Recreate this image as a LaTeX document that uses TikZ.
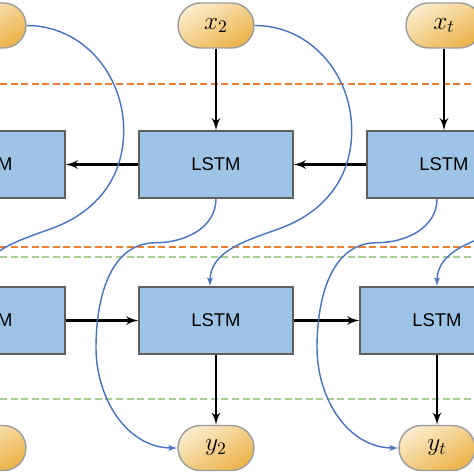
\documentclass[tikz,border=0pt]{standalone}
\usepackage{fontspec}
\setsansfont{Liberation Sans}
\usepackage{xcolor}
\usetikzlibrary{arrows}

\definecolor{boxblue}{HTML}{9DC3E6}
\definecolor{boxline}{HTML}{5F5F5F}
\definecolor{pilllight}{HTML}{FBEBCB}
\definecolor{pilldark}{HTML}{ECB44A}
\definecolor{pillline}{HTML}{9C9C9C}
\definecolor{curveblue}{HTML}{4472C4}
\definecolor{sepred}{HTML}{ED7D31}
\definecolor{sepgreen}{HTML}{A9D18E}

\tikzset{
  lstm/.style={draw=boxline, fill=boxblue, line width=0.8pt, minimum width=3.08cm, minimum height=1.34cm, font=\sffamily\fontsize{10.5}{12}\selectfont},
  token/.style={draw=pillline, rounded corners=0.45cm, top color=pilllight, bottom color=pilldark, shading angle=30, line width=0.8pt, minimum width=1.52cm, minimum height=0.9cm, font=\Large},
  flow/.style={->, -latex', line width=1.4pt},
  bilink/.style={->, -latex', curveblue, line width=0.8pt},
  sep/.style={dash pattern=on 4pt off 2pt, line width=0.8pt}
}

\begin{document}
\begin{tikzpicture}[node distance=4.56cm, auto]
  \useasboundingbox (0,0) rectangle (9.48,-9.48);
  \clip (0,0) rectangle (9.48,-9.48);

  % layer separators
  \draw[sep, sepred] (0,-1.68) -- (9.48,-1.68);
  \draw[sep, sepred] (0,-4.94) -- (9.48,-4.94);
  \draw[sep, sepgreen] (0,-5.14) -- (9.48,-5.14);
  \draw[sep, sepgreen] (0,-7.98) -- (9.48,-7.98);

  % inputs
  \node[token] (x2) at (4.32,-0.51) {$x_2$};
  \node[token, left of=x2] (x1) {$x_1$};
  \node[token, right of=x2] (xt) {$x_t$};

  % backward layer
  \node[lstm, below of=x2, node distance=2.78cm] (b2) {LSTM};
  \node[lstm, left of=b2] (b1) {LSTM};
  \node[lstm, right of=b2] (bt) {LSTM};

  % forward layer
  \node[lstm, below of=b2, node distance=3.12cm] (f2) {LSTM};
  \node[lstm, left of=f2] (f1) {LSTM};
  \node[lstm, right of=f2, node distance=4.42cm] (ft) {LSTM};

  % outputs
  \node[token, below of=f2, node distance=2.55cm] (y2) {$y_2$};
  \node[token, below of=f1, node distance=2.55cm] (y1) {$y_1$};
  \node[token, right of=y2, node distance=4.42cm] (yt) {$y_t$};

  \path[flow] (x2) edge (b2)
      (xt) edge (bt)
      (b2) edge (b1)
      (bt) edge (b2)
      (f1) edge (f2)
      (f2) edge (ft)
      (f2) edge (y2)
      (ft) edge (yt);

  % inputs into forward layer
  \draw[bilink] (x1.east) to[out=0,in=90] ++(1.94,-2.1) to[out=-90,in=20] ++(-1.44,-1.96) to[out=200,in=90] ([xshift=-0.12cm]f1.north);
  \draw[bilink] (x2.east) to[out=0,in=90] ++(1.94,-2.1) to[out=-90,in=20] ++(-1.44,-1.96) to[out=200,in=90] ([xshift=-0.12cm]f2.north);
  \draw[bilink] (xt.east) to[out=0,in=90] ++(1.94,-2.1) to[out=-90,in=20] ++(-1.44,-1.96) to[out=200,in=90] (ft.north);

  % backward layer into outputs
  \draw[bilink] (b2.south) to[out=-90,in=0] ++(-1.2,-0.88) to[out=180,in=90] ++(-1.2,-2.1) to[out=-90,in=180] (y2.west);
  \draw[bilink] ([xshift=-0.14cm]bt.south) to[out=-90,in=0] ++(-1.2,-0.88) to[out=180,in=90] ++(-1.2,-2.1) to[out=-90,in=180] (yt.west);
\end{tikzpicture}
\end{document}
